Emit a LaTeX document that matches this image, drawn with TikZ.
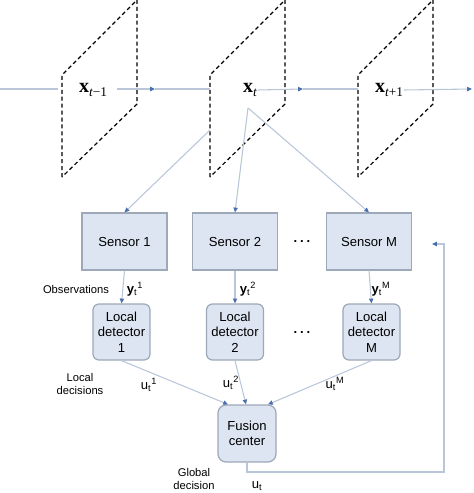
\documentclass[tikz,border=0pt]{standalone}
\usepackage{fontspec}
\setmainfont{Liberation Sans}
\newfontfamily\serifx{Liberation Serif}
\usetikzlibrary{arrows.meta}
\definecolor{linec}{HTML}{B9C6DA}
\definecolor{tipc}{HTML}{4A6FAE}
\definecolor{boxfill}{HTML}{DCE5F1}
\definecolor{boxdraw}{HTML}{9DA8B8}
\newcommand{\xsub}[1]{\raisebox{-3.2pt}{\fontsize{10}{12}\selectfont #1}}
\begin{document}
\begin{tikzpicture}[x=0.75pt,y=-0.75pt,
  conn/.style={draw=linec, line width=0.8pt},
  arr/.style={conn, -{Triangle[length=3.6pt,width=3.2pt,color=tipc]}},
  plane/.style={draw=black, line width=0.9pt, dash pattern=on 3pt off 2.2pt},
  sensorbox/.style={draw=boxdraw, fill=boxfill, line width=0.9pt, minimum width=85*0.75pt, minimum height=57*0.75pt, inner sep=0pt, font=\fontsize{9.8}{11.6}\selectfont},
  detbox/.style={draw=boxdraw, fill=boxfill, line width=0.9pt, rounded corners=4.5pt, minimum width=57*0.75pt, minimum height=56*0.75pt, inner sep=0pt, align=center, font=\fontsize{9.8}{11.6}\selectfont},
  lbl/.style={inner sep=0pt, align=center, font=\fontsize{8.4}{9.8}\selectfont},
  sym/.style={inner sep=0pt, font=\fontsize{9.8}{11.6}\selectfont},
  xlab/.style={inner sep=0.5pt, fill=white, font=\fontsize{15}{17}\selectfont\serifx},
  dots/.style={inner sep=0pt, font=\fontsize{9.8}{11.6}\selectfont\bfseries}
]
\useasboundingbox (0,0) rectangle (474,493);

% time axis
\coordinate (a0) at (0,89);
\coordinate (a1) at (58,89);
\coordinate (b1) at (155,89);
\coordinate (b1e) at (210,89);
\coordinate (b2) at (303,89);
\coordinate (b2e) at (358,89);
\coordinate (b3) at (472,89);
\draw[conn] (a0) -- (a1);

% planes
\draw[plane] (62,177) -- (62,75) -- (137,0) -- (137,104) -- cycle;
\draw[plane] (210,177) -- (210,75) -- (285,0) -- (285,104) -- cycle;
\draw[plane] (358,177) -- (358,75) -- (433,0) -- (433,104) -- cycle;

\node[xlab] (xtm1) at (93,90) {\textbf{x}\xsub{\itshape t\upshape −1}};
\node[xlab] (xt) at (250,90) {\textbf{x}\xsub{\itshape t}};
\node[xlab] (xtp1) at (389,90) {\textbf{x}\xsub{\itshape t\upshape +1}};

\draw[arr] (117,89) -- (b1);
\draw[conn] (b1) -- (b1e);
\draw[arr] (xt.east) -- (b2);
\draw[conn] (b2) -- (b2e);
\draw[arr] (xtp1.east) -- (b3);

% sensors
\node[sensorbox] (s1) at (124.5,241.5) {Sensor 1};
\node[sensorbox] (s2) at (235,241.5) {Sensor 2};
\node[sensorbox] (sM) at (369,241.5) {Sensor M};
\node[dots] (d1) at (302,242) {.\hspace{2.2pt}.\hspace{2.2pt}.};

\coordinate (src1) at (210,130);
\coordinate (src2) at (248,108);
\draw[arr] (src1) -- (s1.north);
\draw[arr] (src2) -- (s2.north);
\draw[arr] (src2) -- (sM.north);

% local detectors
\node[detbox] (l1) at (121.5,332) {Local\\detector\\1};
\node[detbox] (l2) at (235,332) {Local\\detector\\2};
\node[detbox] (lM) at (371.5,332) {Local\\detector\\M};
\node[dots] (d2) at (302,333) {.\hspace{2.2pt}.\hspace{2.2pt}.};

\draw[arr] (s1.south) -- (l1.north);
\draw[arr] (s2.south) -- (l2.north);
\draw[arr] (sM.south) -- (lM.north);

\node[lbl] (obs) at (76,289) {Observations};
\node[sym] (y1) at (135,289) {\textbf{y}\textsubscript{t}\textsuperscript{1}};
\node[sym] (y2) at (248,289) {\textbf{y}\textsubscript{t}\textsuperscript{2}};
\node[sym] (yM) at (381,289) {\textbf{y}\textsubscript{t}\textsuperscript{M}};

% fusion
\node[detbox, minimum width=58*0.75pt, minimum height=57*0.75pt, rounded corners=6pt] (fc) at (247,433.5) {Fusion\\center};

\draw[arr] (l1.south) -- ([xshift=-19*0.75pt]fc.north);
\draw[arr] (l2.south) -- ([xshift=-1*0.75pt]fc.north);
\draw[arr] (lM.south) -- ([xshift=21*0.75pt]fc.north);

\node[lbl] (ld) at (80,384) {Local\\decisions};
\node[sym] (u1) at (149,385) {u\textsubscript{t}\textsuperscript{1}};
\node[sym] (u2) at (231,383) {u\textsubscript{t}\textsuperscript{2}};
\node[sym] (uM) at (335,384) {u\textsubscript{t}\textsuperscript{M}};

% feedback
\coordinate (f1) at (247,472);
\coordinate (f2) at (444,472);
\coordinate (f3) at (444,244);
\coordinate (f4) at (432,244);
\draw[arr] (fc.south) -- (f1) -- (f2) -- (f3) -- (f4);

\node[lbl] (gd) at (194,479) {Global\\decision};
\node[sym] (ut) at (257,486) {u\textsubscript{t}};
\end{tikzpicture}
\end{document}
